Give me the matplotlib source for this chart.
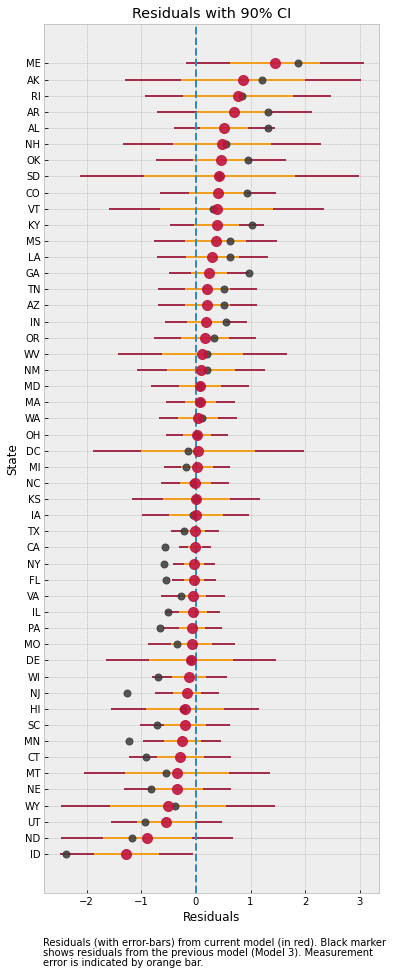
import numpy as np
import matplotlib.pyplot as plt

plt.style.use('bmh')

# states, top to bottom
states = ['ME', 'AK', 'RI', 'AR', 'AL', 'NH', 'OK', 'SD', 'CO', 'VT',
          'KY', 'MS', 'LA', 'GA', 'TN', 'AZ', 'IN', 'OR', 'WV', 'NM',
          'MD', 'MA', 'WA', 'OH', 'DC', 'MI', 'NC', 'KS', 'IA', 'TX',
          'CA', 'NY', 'FL', 'VA', 'IL', 'PA', 'MO', 'DE', 'WI', 'NJ',
          'HI', 'SC', 'MN', 'CT', 'MT', 'NE', 'WY', 'UT', 'ND', 'ID']

# residuals of current model
resid = [1.45, 0.86, 0.77, 0.70, 0.52, 0.48, 0.46, 0.43, 0.41, 0.38,
         0.38, 0.36, 0.30, 0.24, 0.21, 0.21, 0.19, 0.17, 0.12, 0.10,
         0.08, 0.08, 0.04, 0.02, 0.04, 0.02, -0.01, 0.01, 0.00, -0.01,
         -0.01, -0.03, -0.03, -0.05, -0.05, -0.07, -0.08, -0.09, -0.12, -0.16,
         -0.20, -0.20, -0.25, -0.29, -0.34, -0.34, -0.51, -0.54, -0.89, -1.27]

# half width of 90% CI
ci = [1.63, 2.16, 1.71, 1.42, 0.92, 1.81, 1.19, 2.55, 1.06, 1.97,
      0.86, 1.12, 1.02, 0.73, 0.90, 0.91, 0.75, 0.93, 1.55, 1.17,
      0.90, 0.63, 0.72, 0.56, 1.93, 0.60, 0.62, 1.17, 0.98, 0.44,
      0.29, 0.38, 0.40, 0.59, 0.50, 0.54, 0.79, 1.55, 0.69, 0.58,
      1.35, 0.82, 0.71, 0.94, 1.70, 0.98, 1.96, 1.02, 1.57, 1.21]

# half width of measurement error
me = [0.83, 1.13, 1.00, 0.68, 0.44, 0.90, 0.51, 1.38, 0.53, 1.04,
      0.41, 0.56, 0.49, 0.33, 0.41, 0.41, 0.36, 0.44, 0.74, 0.62,
      0.38, 0.28, 0.36, 0.25, 1.05, 0.30, 0.28, 0.61, 0.50, 0.18,
      0.13, 0.18, 0.18, 0.24, 0.25, 0.23, 0.38, 0.77, 0.31, 0.26,
      0.71, 0.38, 0.34, 0.43, 0.95, 0.47, 1.06, 0.53, 0.81, 0.59]

# residuals of previous model (Model 3)
prev = [1.87, 1.21, 0.84, 1.32, 1.32, 0.56, 0.96, 0.43, 0.94, 0.32,
        1.03, 0.63, 0.63, 0.98, 0.52, 0.52, 0.56, 0.34, 0.20, 0.20,
        0.08, 0.08, 0.12, 0.02, -0.14, -0.18, -0.05, 0.01, -0.06, -0.21,
        -0.56, -0.58, -0.54, -0.27, -0.51, -0.65, -0.34, -0.11, -0.69, -1.26,
        -0.24, -0.71, -1.22, -0.91, -0.54, -0.82, -0.38, -0.93, -1.16, -2.37]

resid = np.array(resid)
ci = np.array(ci)
me = np.array(me)
y = np.arange(len(states))[::-1]

fig = plt.figure(figsize=(5.5, 976 / 72), dpi=72)
ax = fig.add_axes([0.111, 0.085, 0.846, 0.890])

ax.hlines(y, resid - ci, resid + ci, color='#a32e4c', lw=2, zorder=2)
ax.hlines(y, resid - me, resid + me, color='#f29e1f', lw=2, zorder=2.5)
ax.axvline(0, color='#348ABD', ls='--', lw=2, zorder=3)
ax.plot(prev, y, 'o', color='#3a3a3a', alpha=0.85, ms=7, zorder=4)
ax.plot(resid, y, 'o', color='#c0143c', alpha=0.9, ms=10, zorder=5)

ax.set_yticks(y)
ax.set_yticklabels(states)
ax.set_xlim(-2.78, 3.35)
ax.set_ylim(-2.42, len(states) - 1 + 2.42)
ax.set_xticks([-2, -1, 0, 1, 2, 3])
ax.set_xlabel('Residuals')
ax.set_ylabel('State')
ax.set_title('Residuals with 90% CI')

fig.text(0.109, 0.0235,
         'Residuals (with error-bars) from current model (in red). Black marker\n'
         'shows residuals from the previous model (Model 3). Measurement\n'
         'error is indicated by orange bar.', fontsize=10, va='center', linespacing=1.03)

fig.savefig('out.png', dpi=72)
